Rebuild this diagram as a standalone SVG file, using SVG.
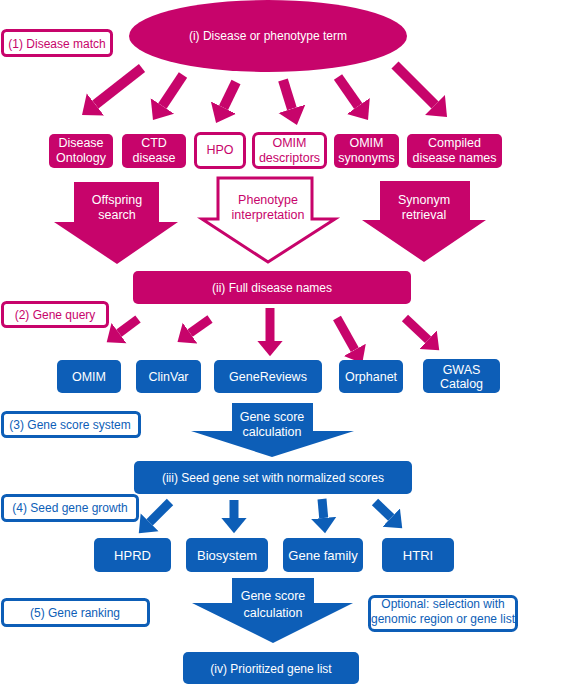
<svg xmlns="http://www.w3.org/2000/svg" width="572" height="685" viewBox="0 0 572 685">
<style>
text{font-family:"Liberation Sans",Arial,sans-serif;font-size:12px;text-anchor:middle}
.t13{font-size:13px}
.t125{font-size:12.5px}
.w{fill:#ffffff}
.m{fill:#C7046B}
.b{fill:#0D5EB7}
.mf{fill:#C7046B}
.bf{fill:#0D5EB7}
.mo{fill:#ffffff;stroke:#C7046B;stroke-width:3}
.bo{fill:#ffffff;stroke:#0D5EB7;stroke-width:3}
.ml{stroke:#C7046B;fill:none;marker-end:url(#mh)}
.bl{stroke:#0D5EB7;fill:none;marker-end:url(#bh)}
</style>
<defs>
<marker id="mh" viewBox="0 -1.5 1.8 3" refX="0" refY="0" markerWidth="1.8" markerHeight="3" orient="auto" markerUnits="strokeWidth">
<path d="M0,-1.4 L1.7,0 L0,1.4 z" fill="#C7046B"/>
</marker>
<marker id="bh" viewBox="0 -1.5 1.8 3" refX="0" refY="0" markerWidth="1.8" markerHeight="3" orient="auto" markerUnits="strokeWidth">
<path d="M0,-1.4 L1.7,0 L0,1.4 z" fill="#0D5EB7"/>
</marker>
</defs>

<g id="connectors">
<g stroke-width="10">
<line class="ml" x1="142" y1="68" x2="95.4" y2="104.5"/>
<line class="ml" x1="183" y1="75" x2="162.4" y2="105.9"/>
<line class="ml" x1="236" y1="82" x2="223.5" y2="107.7"/>
<line class="ml" x1="283" y1="80" x2="291.9" y2="108.8"/>
<line class="ml" x1="338" y1="77" x2="358.3" y2="106.1"/>
<line class="ml" x1="395" y1="65" x2="435" y2="105"/>
</g>
<g stroke-width="9">
<line class="ml" x1="138" y1="319" x2="119" y2="333.1"/>
<line class="ml" x1="210" y1="319" x2="190" y2="333.1"/>
<line class="ml" x1="270" y1="308" x2="270" y2="341"/>
<line class="ml" x1="337" y1="318" x2="354.8" y2="349.8"/>
<line class="ml" x1="405" y1="318" x2="428.1" y2="339.7"/>
</g>
<g stroke-width="9">
<line class="bl" x1="170" y1="502" x2="149.6" y2="522.4"/>
<line class="bl" x1="234" y1="500" x2="234" y2="518"/>
<line class="bl" x1="322" y1="499" x2="323.7" y2="518"/>
<line class="bl" x1="375" y1="502" x2="391.2" y2="517.6"/>
</g>
</g>

<g id="arrow-offspring">
<polygon class="mf" points="74,182 159,182 159,222 178,222 117,264 54,222 74,222"/>
<text class="w t125" x="117" y="204">Offspring</text>
<text class="w t125" x="117" y="219">search</text>
</g>
<g id="arrow-phenotype">
<polygon class="mo" points="218,178 312,178 312,219 335,219 268,262 202,219 218,219"/>
<text class="m t125" x="268" y="204">Phenotype</text>
<text class="m t125" x="268" y="219">interpretation</text>
</g>
<g id="arrow-synonym">
<polygon class="mf" points="380,181 470,181 470,220 486,220 424,262 362,220 380,220"/>
<text class="w t125" x="424" y="204">Synonym</text>
<text class="w t125" x="424" y="219">retrieval</text>
</g>
<g id="arrow-score1">
<polygon class="bf" points="232,403 313,403 313,431 354,431 272,457 191,431 232,431"/>
<text class="w t125" x="272" y="421">Gene score</text>
<text class="w t125" x="272" y="436">calculation</text>
</g>
<g id="arrow-score2">
<polygon class="bf" points="232,578 314,578 314,603 353,603 273,643 192,603 232,603"/>
<text class="w t125" x="273" y="600">Gene score</text>
<text class="w t125" x="273" y="616.5">calculation</text>
</g>

<g id="term">
<ellipse class="mf" cx="268" cy="36" rx="139" ry="36"/>
<text class="w" x="268" y="40">(i) Disease or phenotype term</text>
</g>
<g id="step1">
<rect class="mo" x="2.5" y="30.5" width="109" height="25" rx="4"/>
<text class="m" x="57" y="47.5">(1) Disease match</text>
</g>

<g id="disease-ontology">
<rect class="mf" x="49" y="134" width="64" height="34" rx="5"/>
<text class="w t125" x="81" y="147">Disease</text>
<text class="w t125" x="81" y="162">Ontology</text>
</g>
<g id="ctd">
<rect class="mf" x="122" y="134" width="64" height="34" rx="5"/>
<text class="w t125" x="154" y="147">CTD</text>
<text class="w t125" x="154" y="162">disease</text>
</g>
<g id="hpo">
<rect class="mo" x="195.5" y="133.5" width="49" height="34" rx="5"/>
<text class="m t125" x="220" y="154">HPO</text>
</g>
<g id="omim-descriptors">
<rect class="mo" x="253.5" y="133.5" width="72" height="34" rx="5"/>
<text class="m t125" x="289.5" y="147">OMIM</text>
<text class="m t125" x="289.5" y="162">descriptors</text>
</g>
<g id="omim-synonyms">
<rect class="mf" x="334" y="134" width="65" height="34" rx="5"/>
<text class="w t125" x="366.5" y="147">OMIM</text>
<text class="w t125" x="366.5" y="162">synonyms</text>
</g>
<g id="compiled">
<rect class="mf" x="407" y="134" width="95" height="34" rx="5"/>
<text class="w t125" x="454.5" y="147">Compiled</text>
<text class="w t125" x="454.5" y="162">disease names</text>
</g>

<g id="full-names">
<rect class="mf" x="133" y="271" width="278" height="33" rx="5"/>
<text class="w" x="272" y="292">(ii) Full disease names</text>
</g>
<g id="step2">
<rect class="mo" x="2.5" y="302.5" width="105" height="24" rx="4"/>
<text class="m" x="55" y="318.5">(2) Gene query</text>
</g>

<g id="omim">
<rect class="bf" x="57" y="360" width="64" height="33" rx="5"/>
<text class="w t125" x="89" y="381">OMIM</text>
</g>
<g id="clinvar">
<rect class="bf" x="136" y="360" width="65" height="33" rx="5"/>
<text class="w t125" x="168.5" y="381">ClinVar</text>
</g>
<g id="genereviews">
<rect class="bf" x="214" y="360" width="108" height="33" rx="5"/>
<text class="w t125" x="268" y="381">GeneReviews</text>
</g>
<g id="orphanet">
<rect class="bf" x="339" y="360" width="64" height="33" rx="5"/>
<text class="w t125" x="371" y="381">Orphanet</text>
</g>
<g id="gwas">
<rect class="bf" x="423" y="359" width="77" height="34" rx="5"/>
<text class="w t125" x="461.5" y="373.5">GWAS</text>
<text class="w t125" x="461.5" y="388">Catalog</text>
</g>

<g id="step3">
<rect class="bo" x="2.5" y="412.5" width="137" height="24" rx="4"/>
<text class="b" x="70" y="428.5">(3) Gene score system</text>
</g>
<g id="seed">
<rect class="bf" x="134" y="461" width="278" height="33" rx="5"/>
<text class="w" x="273" y="482">(iii) Seed gene set with normalized scores</text>
</g>
<g id="step4">
<rect class="bo" x="2.5" y="495.5" width="135" height="25" rx="4"/>
<text class="b" x="70" y="511.5">(4) Seed gene growth</text>
</g>

<g id="hprd">
<rect class="bf" x="94" y="538" width="77" height="34" rx="5"/>
<text class="w t13" x="132.5" y="559.5">HPRD</text>
</g>
<g id="biosystem">
<rect class="bf" x="186" y="538" width="82" height="34" rx="5"/>
<text class="w t13" x="227" y="559.5">Biosystem</text>
</g>
<g id="gene-family">
<rect class="bf" x="283" y="538" width="80" height="34" rx="5"/>
<text class="w t13" x="323" y="559.5">Gene family</text>
</g>
<g id="htri">
<rect class="bf" x="382" y="538" width="72" height="34" rx="5"/>
<text class="w t13" x="418" y="559.5">HTRI</text>
</g>

<g id="step5">
<rect class="bo" x="2.5" y="599.5" width="146" height="26" rx="4"/>
<text class="b" x="75" y="616.5">(5) Gene ranking</text>
</g>
<g id="optional">
<rect class="bo" x="369.5" y="596.5" width="147" height="34" rx="5"/>
<text class="b" x="443" y="607.5">Optional: selection with</text>
<text class="b" x="443" y="622.5">genomic region or gene list</text>
</g>
<g id="prioritized">
<rect class="bf" x="183" y="652" width="176" height="32" rx="5"/>
<text class="w" x="271" y="672.5">(iv) Prioritized gene list</text>
</g>
</svg>
